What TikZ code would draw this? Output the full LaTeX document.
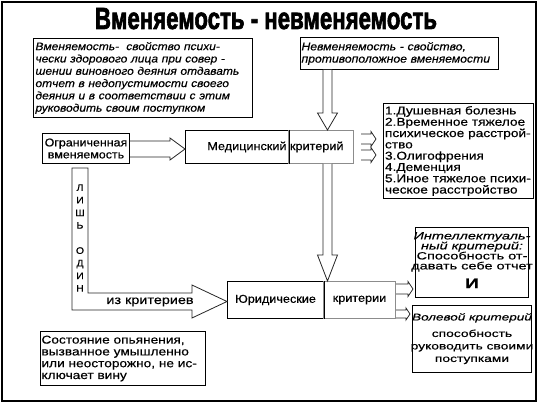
\documentclass[tikz,border=0pt]{standalone}
\usepackage{fontspec}
\setmainfont{Liberation Sans}
\newfontface\titlefont{Liberation Sans Bold}[FakeBold=2.5]
\newfontfamily\sA{Liberation Sans}[FakeStretch=1.1, FakeBold=0.4]
\newfontfamily\sB{Liberation Sans}[FakeStretch=1.2, FakeBold=0.4]
\newfontfamily\sC{Liberation Sans}[FakeStretch=1.38, FakeBold=0.4]
\usetikzlibrary{calc}
\newcommand\downblk[5]{\draw[blk] let \p1=#1,\p2=#2 in (\x2-#3pt,\y1) -- (\x2-#3pt,\y2+#5pt) -- (\x2-#4pt,\y2+#5pt) -- (\x2,\y2) -- (\x2+#4pt,\y2+#5pt) -- (\x2+#3pt,\y2+#5pt) -- (\x2+#3pt,\y1);}
\newcommand\rightblk[5]{\draw[blk] let \p1=#1,\p2=#2 in (\x1,\y2+#3pt) -- (\x2-#5pt,\y2+#3pt) -- (\x2-#5pt,\y2+#4pt) -- (\x2,\y2) -- (\x2-#5pt,\y2-#4pt) -- (\x2-#5pt,\y2-#3pt) -- (\x1,\y2-#3pt);}
\begin{document}
\begin{tikzpicture}[x=1pt,y=-1pt,
  every node/.style={inner sep=0pt, font=\sA\fontsize{11.5}{12.3}\selectfont},
  box/.style={draw=black, line width=1pt, fill=white, anchor=north west},
  gbox/.style={draw=black!45, line width=1pt, fill=white, anchor=north west},
  blk/.style={draw=black!85, line width=0.8pt, fill=white, line join=miter},
]
\useasboundingbox (0,0) rectangle (539,404);
\draw[line width=2.2pt] (2,2) rectangle (536,401);

\node[anchor=base] (title) at (266,29) {\resizebox{342pt}{21pt}{\titlefont Вменяемость - невменяемость}};

\node[box, minimum width=219pt, minimum height=79pt, text width=215pt, align=left,
  font=\sA\itshape\fontsize{10.9}{12.3}\selectfont] (defA) at (33,38)
 {Вменяемость-\ \ свойство психи-\\чески здорового лица при совер -\\шении виновного деяния отдавать\\отчет в недопустимости своего\\деяния и в соответствии с этим\\руководить своим поступком};

\node[box, minimum width=198pt, minimum height=32pt, text width=196pt, align=left,
  font=\sA\itshape\fontsize{11.1}{12.3}\selectfont] (defB) at (300,37)
 {Невменяемость - свойство,\\противоположное вменяемости};

\node[box, minimum width=87pt, minimum height=30pt, align=center,
  font=\sA\fontsize{11.3}{12}\selectfont] (limited) at (42,133) {Ограниченная\\вменяемость};

\node[box, minimum width=103pt, minimum height=33pt, text width=99pt, align=right] (medL) at (185,130) {Медицинский};
\node[gbox, minimum width=65pt, minimum height=33pt, text width=62pt, align=left] (medR) at (288,130) {критерий};
\draw[line width=1pt] (medL.north east) -- (medL.south east);

\node[box, minimum width=150pt, minimum height=95pt, text width=147pt, align=left,
  font=\sB\fontsize{11.4}{11.3}\selectfont] (list) at (383,103)
 {1.Душевная болезнь\\2.Временное тяжелое\\психическое расстрой-\\ство\\3.Олигофрения\\4.Деменция\\5.Иное тяжелое психи-\\ческое расстройство};

\node[box, minimum width=96pt, minimum height=37pt] (jurL) at (227,281) {Юридические};
\node[gbox, minimum width=72pt, minimum height=37pt] (jurR) at (323,281) {критерии};
\draw[line width=1pt] (jurL.north east) -- (jurL.south east);

\node[box, minimum width=113pt, minimum height=70pt] (intel) at (415,227) {};
\node[anchor=north, align=center, font=\sC\fontsize{10.5}{10}\selectfont] (inteltext) at ($(intel.north)+(0,5)$)
 {{\itshape Интеллектуаль-}\\{\itshape ный критерий:}\\Способность от-\\давать себе отчет\\[6pt]{\bfseries\fontsize{14}{14}\selectfont И}};

\node[box, minimum width=119pt, minimum height=67pt] (vol) at (412,305) {};
\node[anchor=north, align=center, font=\sC\fontsize{10}{12.5}\selectfont] (voltext) at ($(vol.north)+(0,8)$)
 {{\itshape\fontsize{9.8}{12.5}\selectfont Волевой критерий}\\[4pt]способность\\руководить своими\\поступками};

\node[box, minimum width=165pt, minimum height=54pt, text width=163pt, align=left,
  font=\sB\fontsize{11.4}{11.8}\selectfont] (drunk) at (40,331)
 {Состояние опьянения,\\вызванное умышленно\\или неосторожно, не ис-\\ключает вину};

% arrows
\coordinate (ax) at (327.5,0);
\downblk{(ax |- defB.south)}{(ax |- medR.north)}{4.5}{10}{17}
\downblk{(ax |- medR.south)}{(ax |- jurR.north)}{4.5}{10}{26}
\rightblk{(limited.east)}{($(medL.west)+(0,2)$)}{8}{11}{15}

\coordinate (m1s) at (361,139); \coordinate (m1t) at (376,139);
\coordinate (m2s) at (361,155); \coordinate (m2t) at (376,155);
\rightblk{(m1s)}{(m1t)}{5}{7.5}{5}
\rightblk{(m2s)}{(m2t)}{5}{7.5}{5}
\rightblk{(jurR.east)}{($(jurR.east)+(17,-11)$)}{5}{7.5}{5}
\rightblk{(jurR.east)}{($(jurR.east)+(14,14)$)}{4}{6}{4}

% L-shaped bar
\draw[blk] (72,168) -- (88,168) -- (88,293) -- (192,293) -- (192,285) -- ($(jurL.west)+(0,1.5)$) -- (192,318) -- (192,310) -- (72,310) -- cycle;
\node[align=center, font=\sA\fontsize{9.5}{12.6}\selectfont] (onebar) at (80,238) {Л\\И\\Ш\\Ь\\~\\О\\Д\\И\\Н};
\node[font=\sB\fontsize{12}{12}\selectfont] (fromcrit) at (150,302) {из критериев};
\end{tikzpicture}
\end{document}
